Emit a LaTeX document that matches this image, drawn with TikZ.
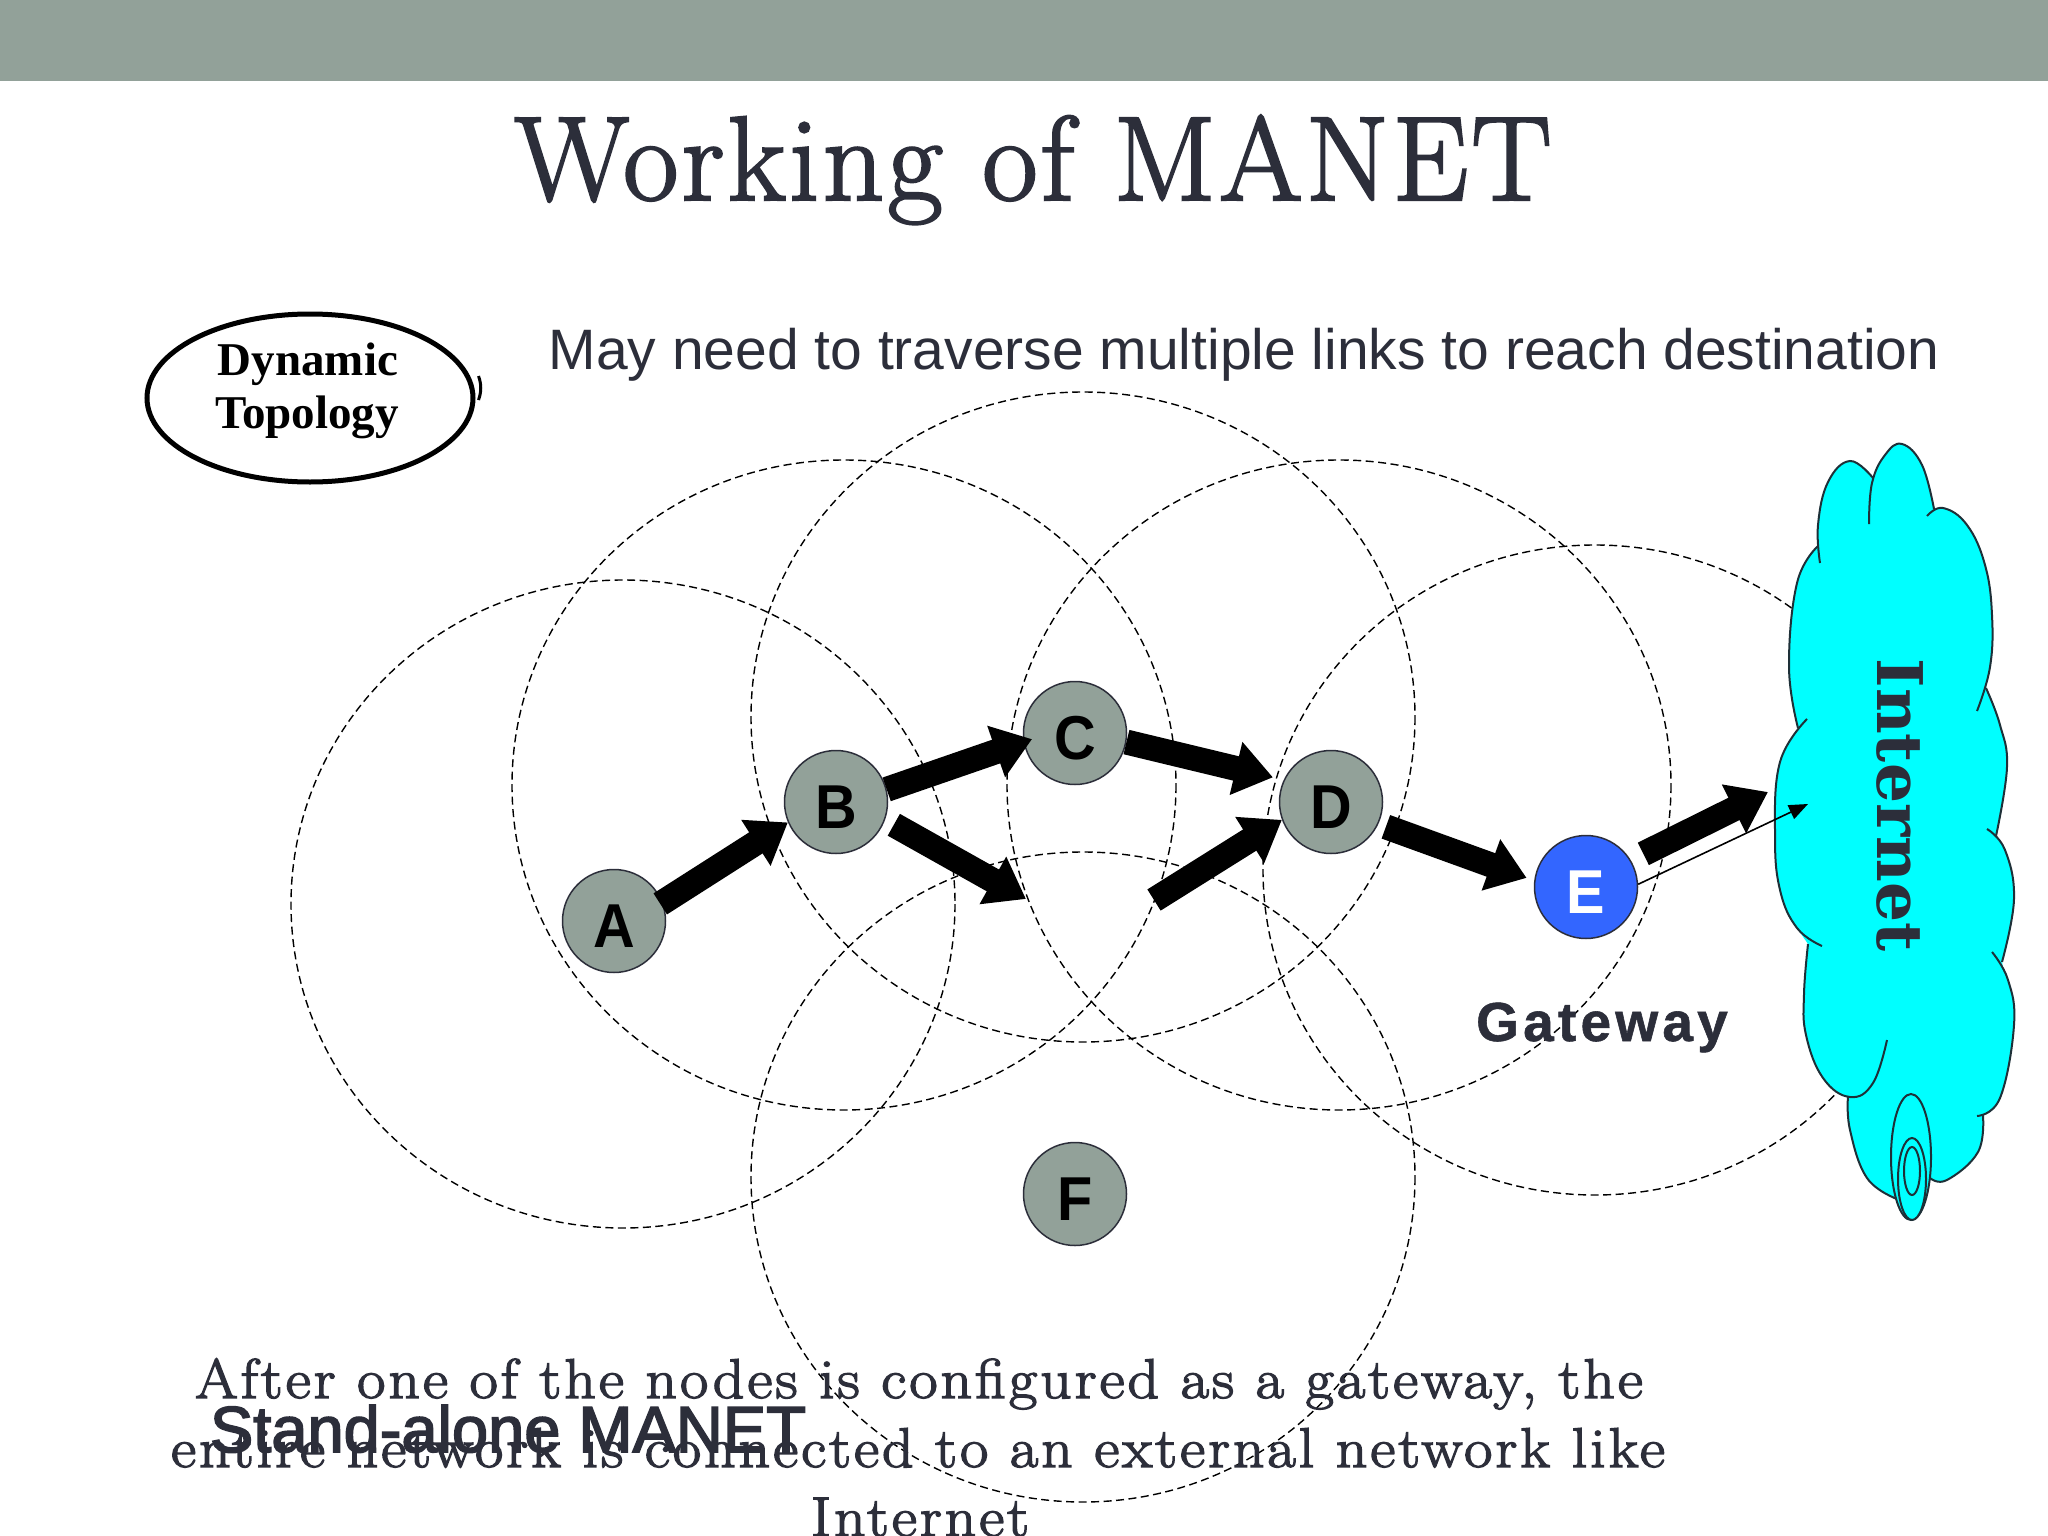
\documentclass[tikz,border=0pt]{standalone}
\usepackage{fontspec}
\usetikzlibrary{arrows.meta,shapes.geometric}
\newfontfamily\lsans{Liberation Sans}
\newfontfamily\lserif{Liberation Serif}
\newfontfamily\dserif{DejaVu Serif}
\newfontfamily\bodyface{Latin Modern Roman}[FakeStretch=1.1,LetterSpace=5.4,FakeBold=2.5]
\newfontfamily\titleface{Latin Modern Roman}[LetterSpace=2.9,FakeBold=2]
\newfontfamily\standface{Liberation Sans}[FakeBold=2.5]
\newfontfamily\gateface{Liberation Sans Bold}[LetterSpace=7.7,FakeBold=1]
\newfontfamily\hopface{Liberation Sans Bold}[FakeStretch=0.93]
\definecolor{band}{HTML}{92A199}
\definecolor{inkdark}{HTML}{2C2E3A}
\definecolor{cloudline}{HTML}{1E3038}
\definecolor{bluenode}{HTML}{3366FF}
\definecolor{cloudfill}{HTML}{00FFFF}
\newcommand{\fs}[1]{\fontsize{#1}{#1}\selectfont}
\newcommand{\lowered}[1]{\raisebox{0pt}[52pt][0pt]{#1}}
\newcommand{\bumpfill}[1]{\fill[cloudfill] plot[smooth,tension=0.7] coordinates {#1};}
\newcommand{\bumpline}[1]{\draw[bump] plot[smooth,tension=0.7] coordinates {#1};}
\newcommand{\allbumps}[1]{%
#1{(1820,563)(1818,525)(1828,482)(1850,461)(1873,478)}%
#1{(1869,524)(1872,483)(1885,455)(1902,444)(1922,465)(1934,509)}%
#1{(1927,516)(1943,508)(1967,525)(1985,565)(1992,615)(1990,667)(1977,711)}%
#1{(1986,688)(2000,725)(2007,767)(1996,836)}%
#1{(1987,829)(2005,850)(2014,899)(2002,962)}%
#1{(1992,952)(2008,980)(2014,1025)(2000,1098)(1977,1116)}%
#1{(1983,1115)(1978,1152)(1947,1180)(1930,1178)}%
#1{(1930,1178)(1915,1198)(1897,1199)}%
#1{(1897,1199)(1867,1178)(1850,1130)(1848,1096)}%
#1{(1887,1040)(1873,1083)(1850,1097)(1823,1078)(1806,1035)(1804,994)(1808,944)}%
#1{(1822,946)(1797,928)(1780,890)(1775,835)(1780,762)(1807,719)}%
#1{(1798,728)(1789,667)(1797,583)(1818,546)}%
}
\tikzset{
  radiorange/.style={draw=black,line width=1.4pt,dash pattern=on 8pt off 4.5pt},
  hop/.style={circle,draw=inkdark,line width=1.5pt,fill=band,minimum size=103pt,inner sep=0pt,font=\hopface\fs{62},text=black},
  thickarrow/.style={line width=25pt,-{Triangle[length=38pt,width=52pt]},black},
  thinarrow/.style={line width=1.6pt,-{Triangle[length=19pt,width=15pt]},black},
  bump/.style={draw=cloudline,line width=2pt,fill=none},
  bodytext/.style={anchor=base,font=\bodyface\fs{56},text=inkdark,inner sep=0pt},
}
\begin{document}
\begin{tikzpicture}[x=1pt,y=-1pt]
\useasboundingbox (0,0) rectangle (2048,1536);
\fill[white] (0,0) rectangle (2048,1536);
\fill[band] (0,0) rectangle (2048,81);

\node[anchor=base,font=\titleface\fs{120},text=inkdark,inner sep=0pt] (title) at (1033,200) {Working of MANET};
\node[anchor=base,font=\lsans\fs{57},text=inkdark,inner sep=0pt] (sub) at (1244,369) {May need to traverse multiple links to reach destination};

% Dynamic Topology
\node[ellipse,draw=black,line width=5pt,minimum width=326pt,minimum height=168pt,inner sep=0pt] (dyn) at (310,398) {};
\node[anchor=base,font=\lserif\bfseries\fs{47},text=black,inner sep=0pt] (dyn1) at (308,375) {Dynamic};
\node[anchor=base,font=\lserif\bfseries\fs{47},text=black,inner sep=0pt] (dyn2) at (307,428) {Topology};
\draw[black,line width=3pt] (dyn.east) ++(3,-22) .. controls +(3,8) and +(3,-8) .. +(0,24);

% range circles
\draw[radiorange] (623,904) ellipse [x radius=332,y radius=324];
\draw[radiorange] (844,785) ellipse [x radius=332,y radius=325];
\draw[radiorange] (1083,717) ellipse [x radius=332,y radius=325];
\draw[radiorange] (1339,785) ellipse [x radius=332,y radius=325];
\draw[radiorange] (1595,870) ellipse [x radius=332,y radius=325];
\draw[radiorange] (1083,1177) ellipse [x radius=332,y radius=325];

% cloud
\fill[cloudfill] (1818,546)--(1797,583)--(1789,667)--(1798,728)--(1780,762)--(1775,835)--(1797,928)--(1808,944)--(1804,994)--(1823,1078)--(1848,1096)--(1867,1178)--(1897,1199)--(1930,1178)--(1947,1180)--(1978,1152)--(1983,1115)--(2000,1098)--(2014,1025)--(2002,962)--(2014,899)--(1996,836)--(2007,767)--(1986,688)--(1992,615)--(1967,525)--(1934,509)--(1902,444)--(1873,478)--(1850,461)--(1818,525)--cycle;
\allbumps{\bumpfill}
\allbumps{\bumpline}
\draw[bump,fill=cloudfill] (1911,1157) ellipse [x radius=20,y radius=63];
\draw[bump,fill=cloudfill] (1912,1179) ellipse [x radius=14,y radius=41];
\draw[bump] (1912,1171) ellipse [x radius=8,y radius=24];
\node[rotate=-90,anchor=base,font=\dserif\bfseries\fs{63},text=inkdark,inner sep=0pt] (internet) at (1877,805) {Internet};

% hosts
\node[hop] (A) at (614,921) {\lowered{A}};
\node[hop] (B) at (836,802) {\lowered{B}};
\node[hop] (C) at (1075,733) {\lowered{C}};
\node[hop] (D) at (1331,802) {\lowered{D}};
\node[hop,fill=bluenode,text=white] (E) at (1586,887) {\lowered{E}};
\node[hop] (F) at (1075,1194) {\lowered{F}};

\node[anchor=base,font=\gateface\fs{55},text=inkdark,inner sep=0pt] (gw) at (1602,1041) {Gateway};

% connectors
\coordinate (midA) at (1026,899);
\coordinate (midB) at (1154,900);
\coordinate (cloudA) at (1768,792);
\coordinate (cloudB) at (1808,804);
\draw[thickarrow,shorten <=-3pt] (A.21) -- (B.203);
\draw[thickarrow,shorten >=-9pt] (B.14) -- (C.190);
\draw[thickarrow,shorten >=11pt] (C.-10) -- (D.155);
\draw[thickarrow,shorten <=10pt] (B.-20) -- (midA);
\draw[thickarrow] (midB) -- (D.200);
\draw[thickarrow,shorten <=8pt,shorten >=8pt] (D.-25) -- (E.173);
\draw[thickarrow,shorten <=14pt] (E.31) -- (cloudA);
\draw[thinarrow] (E.3) -- (cloudB);

% bottom text
\node[bodytext] (l1) at (919,1398) {After one of the nodes is configured as a gateway, the};
\node[bodytext] (l2) at (918,1467) {entire network is connected to an external network like};
\node[bodytext] (l3) at (920,1536) {Internet};
\node[anchor=base,font=\standface\fs{65},text=inkdark,inner sep=0pt] (sa) at (508,1452) {Stand-alone MANET};
\end{tikzpicture}
\end{document}
